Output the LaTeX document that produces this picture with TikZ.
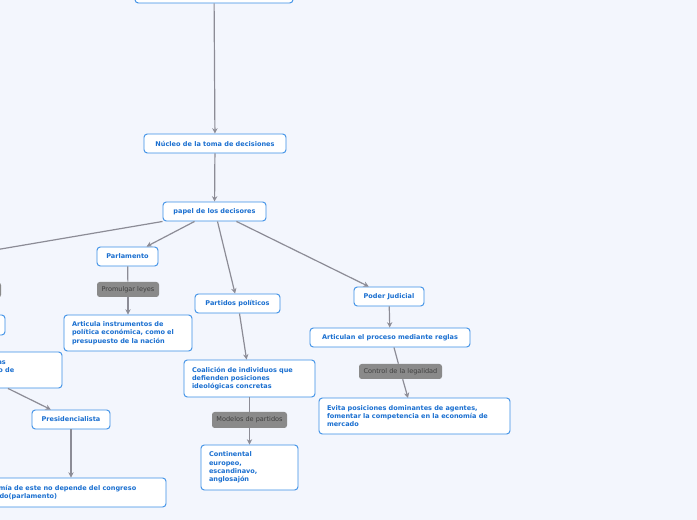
\documentclass[tikz,border=0pt]{standalone}
\usepackage{fontspec}
\setmainfont{DejaVu Sans}
\usetikzlibrary{arrows.meta}
\definecolor{bg}{HTML}{F3F6FD}
\definecolor{bord}{HTML}{3A8EE6}
\definecolor{txt}{HTML}{1A6FD0}
\definecolor{lbl}{HTML}{8A8A8A}
\definecolor{ln}{HTML}{8C8C96}
\begin{document}
\begin{tikzpicture}[x=0.75pt,y=-0.75pt,
  box/.style={draw=bord,fill=white,rounded corners=2.5pt,line width=0.7pt,inner sep=0pt,
     font=\fontsize{4.9}{6.2}\selectfont\bfseries,text=txt},
  lab/.style={fill=lbl,rounded corners=2pt,inner sep=0pt,font=\fontsize{4.9}{6}\selectfont,text=black!75},
  con/.style={draw=ln,line width=0.9pt,-{Stealth[length=4pt,width=4pt]}},
  lin/.style={draw=ln,line width=0.9pt}]
\useasboundingbox (0,0) rectangle (697,520);
\clip (0,0) rectangle (697,520);
\fill[bg] (0,0) rectangle (697,520);
\node[box,minimum width=158*0.75pt,minimum height=30*0.75pt] (top) at (214,-12) {};
\node[box,minimum width=142*0.75pt,minimum height=19*0.75pt] (nuc) at (215,143.5) {Núcleo de la toma de decisiones};
\node[box,minimum width=103*0.75pt,minimum height=19*0.75pt] (pap) at (214.5,211.5) {papel de los decisores};
\node[box,minimum width=61*0.75pt,minimum height=19*0.75pt] (parl) at (127.5,256.5) {Parlamento};
\node[lab,minimum width=62*0.75pt,minimum height=15*0.75pt] (prom) at (128,289.5) {Promulgar leyes};
\node[box,minimum width=128*0.75pt,minimum height=36*0.75pt,text width=112*0.75pt,align=left] (art) at (128,333) {Articula instrumentos de\\política económica, como el\\presupuesto de la nación};
\node[box,minimum width=85*0.75pt,minimum height=19*0.75pt] (part) at (237.5,303.5) {Partidos políticos};
\node[box,minimum width=131*0.75pt,minimum height=37*0.75pt,text width=115*0.75pt,align=left] (coal) at (249.5,378.5) {Coalición de individuos que\\defienden posiciones\\ideológicas concretas};
\node[lab,minimum width=75*0.75pt,minimum height=16*0.75pt] (mod) at (249.5,420) {Modelos de partidos};
\node[box,minimum width=97*0.75pt,minimum height=45*0.75pt,text width=81*0.75pt,align=left] (cont) at (249.5,467.5) {Continental\\europeo,\\escandinavo,\\anglosajón};
\node[box,minimum width=70*0.75pt,minimum height=19*0.75pt] (pj) at (389,296.5) {Poder Judicial};
\node[box,minimum width=160*0.75pt,minimum height=19*0.75pt] (artn) at (390,337.5) {Articulan el proceso mediante reglas};
\node[lab,minimum width=83*0.75pt,minimum height=15*0.75pt] (ctl) at (400.5,371.5) {Control de la legalidad};
\node[box,minimum width=191*0.75pt,minimum height=36*0.75pt,text width=175*0.75pt,align=left] (evi) at (414.5,416) {Evita posiciones dominantes de agentes,\\fomentar la competencia en la economía de\\mercado};
\coordinate (lft) at (-5,250);
\coordinate (evitop) at (408,398);
\node[lab,minimum width=20*0.75pt,minimum height=15*0.75pt] (lg) at (-9,290) {};
\node[box,minimum width=30*0.75pt,minimum height=20*0.75pt] (lb1) at (-10,325) {};
\node[box,minimum width=110*0.75pt,minimum height=36*0.75pt,text width=94*0.75pt,align=left] (lb2) at (7,370) {Las políticas\\en el marco de\\la nación};
\node[box,minimum width=78*0.75pt,minimum height=19*0.75pt] (pres) at (71,419.5) {Presidencialista};
\node[box,minimum width=211*0.75pt,minimum height=29*0.75pt,text width=197*0.75pt,align=left] (bot) at (60.5,492.5) {La autonomía de este no depende del congreso\\o del senado(parlamento)};
\draw[con] (top) -- (nuc);
\draw[con] (nuc) -- (pap);
\draw[lin] (pap.south west) -- (lft);
\draw[con] ([xshift=-20*0.75pt]pap.south) -- (parl);
\draw[lin] (parl) -- (prom);
\draw[con] (prom) -- (art);
\draw[con] ([xshift=3*0.75pt]pap.south) -- (part);
\draw[con] ([xshift=22*0.75pt]pap.south) -- (pj);
\draw[con] ([xshift=2*0.75pt]part.south) -- (coal);
\draw[lin] (coal) -- (mod);
\draw[con] (mod) -- (cont);
\draw[con] (pj) -- (artn);
\draw[lin] ([xshift=4*0.75pt]artn.south) -- (ctl);
\draw[con] (ctl) -- (evitop);
\draw[con] ([xshift=1*0.75pt]lb2.south) -- (pres);
\draw[con] (pres) -- (pres |- bot.north);
\end{tikzpicture}
\end{document}
